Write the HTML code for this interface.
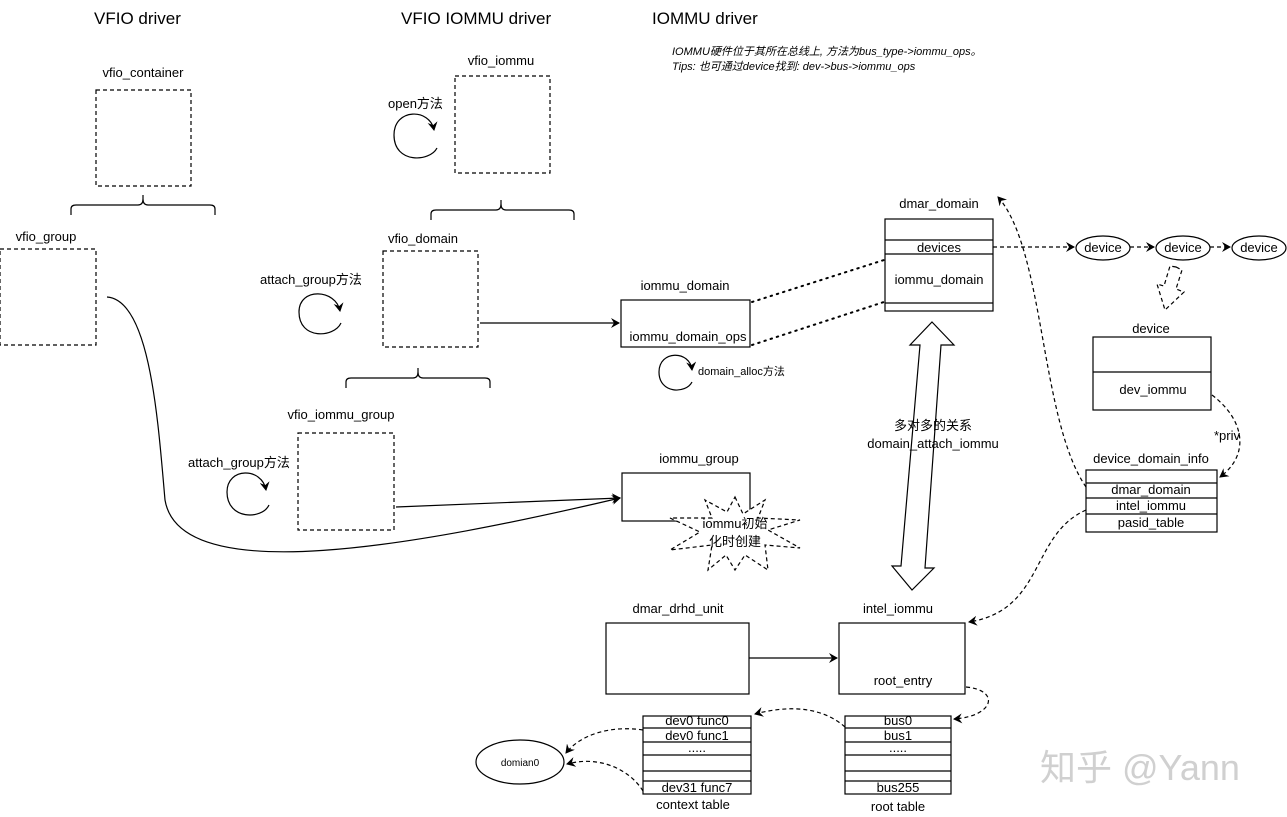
<!DOCTYPE html>
<html><head><meta charset="utf-8"><style>
html,body{margin:0;padding:0;background:#fff;}
svg{display:block;}
text{font-family:"Liberation Sans","Noto Sans CJK SC",sans-serif;fill:#000;}
</style></head><body>
<svg width="1287" height="817" viewBox="0 0 1287 817" xmlns="http://www.w3.org/2000/svg">
<defs>
<marker id="a" markerWidth="10" markerHeight="10" refX="8" refY="5" orient="auto" markerUnits="userSpaceOnUse"><path d="M0,0 L9,5 L0,10 L3,5 Z" fill="#000"/></marker>
</defs>
<g fill="none" stroke="#000" stroke-width="1.2">
<path d="M932,322 L954,345 L941,345 L925,568 L934,568 L912,590 L892,566 L901,566 L920,345 L910,345 Z" fill="#fff"/>
</g>
<g font-size="17">
<text x="94" y="24">VFIO driver</text>
<text x="401" y="24">VFIO IOMMU driver</text>
<text x="652" y="24">IOMMU driver</text>
</g>
<g font-size="11" font-style="italic">
<text x="672" y="55">IOMMU硬件位于其所在总线上, 方法为bus_type-&gt;iommu_ops。</text>
<text x="672" y="70">Tips: 也可通过device找到: dev-&gt;bus-&gt;iommu_ops</text>
</g>
<g font-size="13" text-anchor="middle">
<text x="143" y="77">vfio_container</text>
<text x="46" y="241">vfio_group</text>
<text x="501" y="65">vfio_iommu</text>
<text x="423" y="243">vfio_domain</text>
<text x="341" y="419">vfio_iommu_group</text>
<text x="685" y="290">iommu_domain</text>
<text x="688" y="341">iommu_domain_ops</text>
<text x="699" y="463">iommu_group</text>
<text x="939" y="208">dmar_domain</text>
<text x="939" y="252">devices</text>
<text x="939" y="284">iommu_domain</text>
<text x="1151" y="333">device</text>
<text x="1153" y="394">dev_iommu</text>
<text x="1151" y="463">device_domain_info</text>
<text x="1151" y="494">dmar_domain</text>
<text x="1151" y="510">intel_iommu</text>
<text x="1151" y="527">pasid_table</text>
<text x="678" y="613">dmar_drhd_unit</text>
<text x="898" y="613">intel_iommu</text>
<text x="903" y="685">root_entry</text>
<text x="933" y="430">多对多的关系</text>
<text x="933" y="448">domain_attach_iommu</text>
<text x="697" y="725">dev0 func0</text>
<text x="697" y="740">dev0 func1</text>
<text x="697" y="752">.....</text>
<text x="697" y="792">dev31 func7</text>
<text x="693" y="809">context table</text>
<text x="898" y="725">bus0</text>
<text x="898" y="740">bus1</text>
<text x="898" y="752">.....</text>
<text x="898" y="792">bus255</text>
<text x="898" y="811">root table</text>
<text x="1103" y="252">device</text>
<text x="1183" y="252">device</text>
<text x="1259" y="252">device</text>
</g>
<g font-size="13">
<text x="388" y="108">open方法</text>
<text x="260" y="284">attach_group方法</text>
<text x="188" y="467">attach_group方法</text>
<text x="1214" y="440">*priv</text>
<text x="698" y="375" font-size="11">domain_alloc方法</text>
<text x="520" y="766" font-size="10" text-anchor="middle">domian0</text>
</g>
<text x="1040" y="780" font-size="36" style="fill:#d0d0d0">知乎 @Yann</text>

<g fill="none" stroke="#000" stroke-width="1.2" stroke-dasharray="4,3">
<rect x="96" y="90" width="95" height="96"/>
<rect x="0" y="249" width="96" height="96"/>
<rect x="455" y="76" width="95" height="97"/>
<rect x="383" y="251" width="95" height="96"/>
<rect x="298" y="433" width="96" height="97"/>
</g>
<g fill="none" stroke="#000" stroke-width="1.2">
<path d="M71,215 V209 Q71,205 76,205 H138 Q143,205 143,199 V195 M143,199 Q143,205 148,205 H210 Q215,205 215,209 V215"/>
<path d="M431,220 V214 Q431,210 436,210 H496 Q501,210 501,204 V200 M501,204 Q501,210 506,210 H569 Q574,210 574,214 V220"/>
<path d="M346,388 V382 Q346,378 351,378 H413 Q418,378 418,372 V368 M418,372 Q418,378 423,378 H485 Q490,378 490,382 V388"/>
<path d="M437,148 C430,162 394,164 394,135 C394,108 430,108 434,130" marker-end="url(#a)"/>
<path d="M341,323 C334,338 299,340 299,312 C299,287 336,289 340,311" marker-end="url(#a)"/>
<path d="M269,505 C262,520 227,520 227,492 C227,467 262,467 266,490" marker-end="url(#a)"/>
<path d="M692,382 C686,394 659,394 659,372 C659,350 690,350 692,370" marker-end="url(#a)"/>
<rect x="621" y="300" width="129" height="47"/>
<rect x="622" y="473" width="128" height="48"/>
<rect x="885" y="219" width="108" height="92"/>
<line x1="885" y1="240" x2="993" y2="240"/><line x1="885" y1="254" x2="993" y2="254"/><line x1="885" y1="303" x2="993" y2="303"/>
<rect x="1093" y="337" width="118" height="73"/><line x1="1093" y1="372" x2="1211" y2="372"/>
<rect x="1086" y="470" width="131" height="62"/>
<line x1="1086" y1="483" x2="1217" y2="483"/><line x1="1086" y1="498" x2="1217" y2="498"/><line x1="1086" y1="514" x2="1217" y2="514"/>
<rect x="606" y="623" width="143" height="71"/>
<rect x="839" y="623" width="126" height="71"/>
<rect x="643" y="716" width="108" height="78"/>
<line x1="643" y1="728" x2="751" y2="728"/><line x1="643" y1="742" x2="751" y2="742"/><line x1="643" y1="755" x2="751" y2="755"/><line x1="643" y1="771" x2="751" y2="771"/><line x1="643" y1="781" x2="751" y2="781"/>
<rect x="845" y="716" width="106" height="78"/>
<line x1="845" y1="728" x2="951" y2="728"/><line x1="845" y1="742" x2="951" y2="742"/><line x1="845" y1="755" x2="951" y2="755"/><line x1="845" y1="771" x2="951" y2="771"/><line x1="845" y1="781" x2="951" y2="781"/>
<ellipse cx="1103" cy="248" rx="27" ry="12"/>
<ellipse cx="1183" cy="248" rx="27" ry="12"/>
<ellipse cx="1259" cy="248" rx="27" ry="12"/>
<ellipse cx="520" cy="762" rx="44" ry="22"/>
<line x1="480" y1="323" x2="619" y2="323" marker-end="url(#a)"/>
<line x1="396" y1="507" x2="620" y2="498" marker-end="url(#a)"/>
<path d="M107,297 C150,300 158,420 165,500 C180,590 420,545 620,498" marker-end="url(#a)"/>
<line x1="749" y1="658" x2="837" y2="658" marker-end="url(#a)"/>
</g>
<g fill="none" stroke="#000" stroke-width="2" stroke-dasharray="1.5,5" stroke-linecap="round">
<line x1="752" y1="302" x2="884" y2="260"/>
<line x1="752" y1="345" x2="884" y2="302"/>
</g>
<g fill="none" stroke="#000" stroke-width="1.2" stroke-dasharray="4,3">
<line x1="993" y1="247" x2="1074" y2="247" marker-end="url(#a)"/>
<line x1="1130" y1="247" x2="1154" y2="247" marker-end="url(#a)"/>
<line x1="1210" y1="247" x2="1230" y2="247" marker-end="url(#a)"/>
<path d="M1176,267 L1182,270 L1176,289 L1184,292 L1165,310 L1157,284 L1164,286 L1170,266 Z"/>
<path d="M1212,395 C1245,420 1250,455 1220,477" marker-end="url(#a)"/>
<path d="M1086,487 C1040,420 1045,250 998,197" marker-end="url(#a)"/>
<path d="M1086,510 C1030,535 1045,610 969,622" marker-end="url(#a)"/>
<path d="M966,687 C1000,690 995,716 954,719" marker-end="url(#a)"/>
<path d="M845,727 C820,705 785,706 755,714" marker-end="url(#a)"/>
<path d="M643,730 C610,725 580,735 566,753" marker-end="url(#a)"/>
<path d="M643,791 C630,770 600,755 567,764" marker-end="url(#a)"/>
<path d="M735,497 L743,514 L765,500 L758,518 L800,520 L768,530 L800,548 L765,545 L768,570 L745,555 L735,570 L726,555 L708,570 L712,545 L670,550 L700,532 L670,518 L712,518 L705,500 L727,512 Z" fill="#fff"/>
</g>
<g font-size="13" text-anchor="middle">
<text x="735" y="528">iommu初始</text>
<text x="735" y="546">化时创建</text>
</g>
</svg>
</body></html>
